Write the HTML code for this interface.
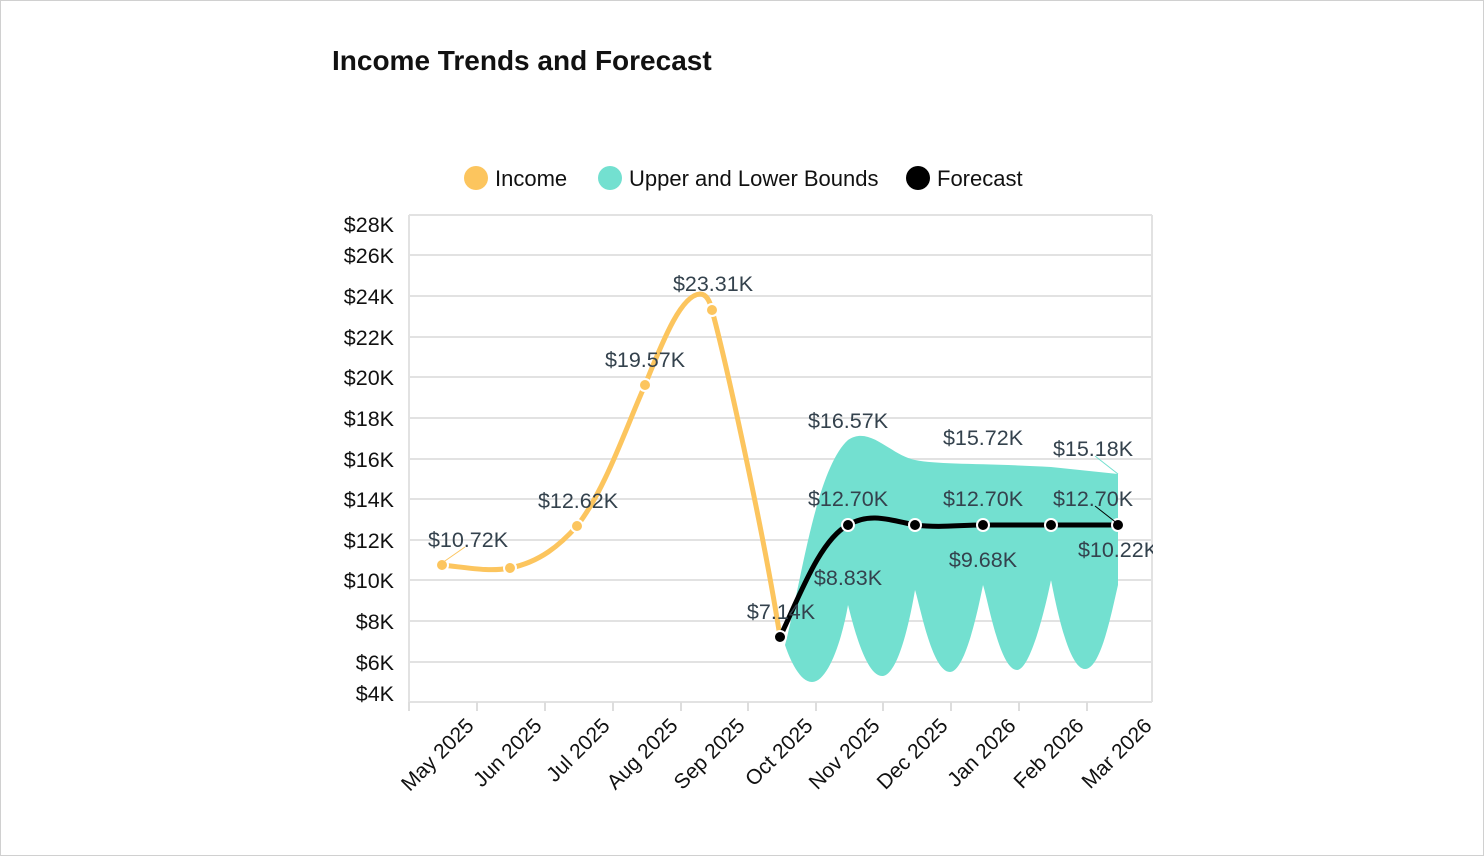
<!DOCTYPE html>
<html><head><meta charset="utf-8"><style>
body{margin:0;background:#fff;}
svg{display:block;font-family:"Liberation Sans",sans-serif;}
</style></head><body>
<svg width="1484" height="856" viewBox="0 0 1484 856">
<rect x="0.5" y="0.5" width="1483" height="855" fill="#fff" stroke="#d0d0d0"/>
<text x="332" y="70" font-size="28" font-weight="bold" fill="#111">Income Trends and Forecast</text>
<g font-size="22" fill="#111">
<circle cx="476" cy="178" r="12" fill="#fcc55e"/><text x="495" y="186">Income</text>
<circle cx="610" cy="178" r="12" fill="#73e0d0"/><text x="629" y="186">Upper and Lower Bounds</text>
<circle cx="918" cy="178" r="12" fill="#000"/><text x="937" y="186">Forecast</text>
</g>
<g stroke="#e2e2e2" stroke-width="2">
<line x1="409" y1="215" x2="1152" y2="215"/><line x1="409" y1="255" x2="1152" y2="255"/>
<line x1="409" y1="296" x2="1152" y2="296"/><line x1="409" y1="337" x2="1152" y2="337"/>
<line x1="409" y1="377" x2="1152" y2="377"/><line x1="409" y1="418" x2="1152" y2="418"/>
<line x1="409" y1="459" x2="1152" y2="459"/><line x1="409" y1="499" x2="1152" y2="499"/>
<line x1="409" y1="540" x2="1152" y2="540"/><line x1="409" y1="580" x2="1152" y2="580"/>
<line x1="409" y1="621" x2="1152" y2="621"/><line x1="409" y1="662" x2="1152" y2="662"/>
<line x1="409" y1="702" x2="1152" y2="702"/>
<line x1="409" y1="215" x2="409" y2="702"/><line x1="1152" y1="215" x2="1152" y2="702"/>
</g>
<g stroke="#ddd" stroke-width="2">
<line x1="409" y1="702" x2="409" y2="711"/><line x1="477" y1="702" x2="477" y2="711"/>
<line x1="545" y1="702" x2="545" y2="711"/><line x1="613" y1="702" x2="613" y2="711"/>
<line x1="681" y1="702" x2="681" y2="711"/><line x1="748" y1="702" x2="748" y2="711"/>
<line x1="816" y1="702" x2="816" y2="711"/><line x1="883" y1="702" x2="883" y2="711"/>
<line x1="951" y1="702" x2="951" y2="711"/><line x1="1019" y1="702" x2="1019" y2="711"/>
<line x1="1087" y1="702" x2="1087" y2="711"/>
</g>
<g font-size="21.5" fill="#111" text-anchor="end">
<text x="394" y="232">$28K</text><text x="394" y="263">$26K</text><text x="394" y="304">$24K</text>
<text x="394" y="345">$22K</text><text x="394" y="385">$20K</text><text x="394" y="426">$18K</text>
<text x="394" y="467">$16K</text><text x="394" y="507">$14K</text><text x="394" y="548">$12K</text>
<text x="394" y="588">$10K</text><text x="394" y="629">$8K</text><text x="394" y="670">$6K</text>
<text x="394" y="701">$4K</text>
</g>
<g font-size="21" fill="#111" text-anchor="end">
<text transform="translate(475,727) rotate(-45)">May 2025</text>
<text transform="translate(543,727) rotate(-45)">Jun 2025</text>
<text transform="translate(611,727) rotate(-45)">Jul 2025</text>
<text transform="translate(679,727) rotate(-45)">Aug 2025</text>
<text transform="translate(746,727) rotate(-45)">Sep 2025</text>
<text transform="translate(814,727) rotate(-45)">Oct 2025</text>
<text transform="translate(881,727) rotate(-45)">Nov 2025</text>
<text transform="translate(949,727) rotate(-45)">Dec 2025</text>
<text transform="translate(1017,727) rotate(-45)">Jan 2026</text>
<text transform="translate(1085,727) rotate(-45)">Feb 2026</text>
<text transform="translate(1153,727) rotate(-45)">Mar 2026</text>
</g>
<path d="M785,645 C800,590 815,470 848,440 C870,425 890,455 915,460 C940,465 983,463 1051,467 L1118,474 L1118,585 C1110,620 1100,669 1085,669 C1068,669 1055,600 1051,580 C1045,610 1030,670 1017,670 C1000,670 988,600 983,585 C978,610 965,672 950,672 C932,672 920,605 915,590 C910,620 898,676 882,676 C865,676 852,620 848,605 C842,640 828,682 812,682 C800,682 790,660 785,645 Z" fill="#73e0d0"/>
<path d="M442,565 C470,568 490,572 510,568 C540,562 560,545 577,526 C605,490 625,430 645,385 C665,335 682,295 700,294 C707,294 710,302 712,310 C728,370 765,540 780,637" fill="none" stroke="#fcc55e" stroke-width="5"/>
<g fill="#fcc55e" stroke="#fff" stroke-width="2">
<circle cx="442" cy="565" r="6"/><circle cx="510" cy="568" r="6"/><circle cx="577" cy="526" r="6"/>
<circle cx="645" cy="385" r="6"/><circle cx="712" cy="310" r="6"/>
</g>
<path d="M780,637 C800,595 820,540 848,525 C870,512 890,520 915,525 C940,528 960,525 983,525 L1118,525" fill="none" stroke="#000" stroke-width="5"/>
<g fill="#000" stroke="#fff" stroke-width="2">
<circle cx="780" cy="637" r="6"/><circle cx="848" cy="525" r="6"/><circle cx="915" cy="525" r="6"/>
<circle cx="983" cy="525" r="6"/><circle cx="1051" cy="525" r="6"/><circle cx="1118" cy="525" r="6"/>
</g>
<line x1="1095" y1="506" x2="1118" y2="524" stroke="#000" stroke-width="1"/>
<line x1="1095" y1="456" x2="1118" y2="474" stroke="#73e0d0" stroke-width="1"/>
<line x1="442" y1="563" x2="465" y2="547" stroke="#fcc55e" stroke-width="1"/>
<g font-size="21.5" fill="#34424d" text-anchor="middle">
<text x="468" y="547">$10.72K</text><text x="578" y="508">$12.62K</text>
<text x="645" y="367">$19.57K</text><text x="713" y="291">$23.31K</text>
<text x="781" y="619">$7.14K</text>
<text x="848" y="428">$16.57K</text><text x="983" y="445">$15.72K</text><text x="1093" y="456">$15.18K</text>
<text x="848" y="506">$12.70K</text><text x="983" y="506">$12.70K</text><text x="1093" y="506">$12.70K</text>
<text x="848" y="585">$8.83K</text><text x="983" y="567">$9.68K</text><text x="1118" y="557">$10.22K</text>
</g>
<rect x="1153" y="530" width="10" height="40" fill="#fff"/>
</svg>
</body></html>
